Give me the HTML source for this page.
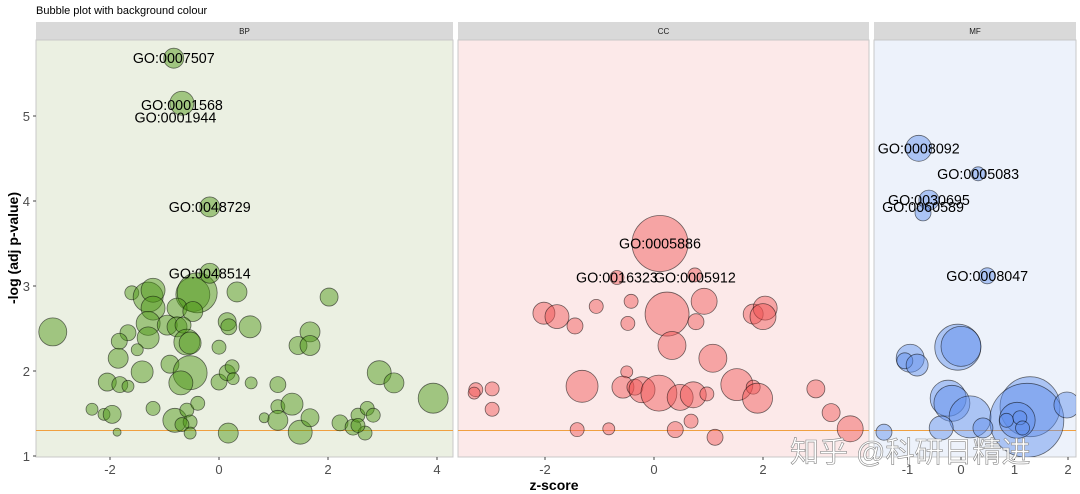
<!DOCTYPE html>
<html><head><meta charset="utf-8"><style>
body{margin:0;background:#fff;}
svg{display:block;font-family:"Liberation Sans",Arial,sans-serif;}
</style></head><body>
<svg id="chart" width="1080" height="494" xmlns="http://www.w3.org/2000/svg">
<text x="36" y="14" font-size="11" fill="#000">Bubble plot with background colour</text>
<text transform="translate(18,248) rotate(-90)" text-anchor="middle" font-size="14" font-weight="bold">-log (adj p-value)</text>
<text x="554" y="490" text-anchor="middle" font-size="14" font-weight="bold">z-score</text>
<g id="panels"></g>
<text x="790" y="462" font-size="29" fill="#fff" stroke="#888" stroke-width="0.6" font-family="'Liberation Sans','Noto Sans CJK SC',sans-serif">知乎 @科研日精进</text>
</svg>
<script>
// Y axis
const yTicks=[1,2,3,4,5];
// BP
const bpX=[-3.05,-1.6,-1.3,-1.21,-1.21,-0.48,-0.4,0.33,2.02,-0.77,-0.48,-1.3,-0.95,-0.77,-0.66,0.15,0.18,0.57,-1.3,-0.59,-0.53,-1.67,-1.83,-1.85,-1.5,0,1.67,1.45,1.67,-0.9,-0.53,-0.7,-1.41,-2.05,-1.82,-1.67,0,0.15,0.24,0.26,0.59,1.08,2.94,3.21,3.93,-2.33,-2.11,-1.96,-1.21,-1.87,-0.81,-0.59,-0.39,-0.53,-0.68,-0.53,0.17,0.83,1.08,1.08,1.34,1.49,1.67,2.22,2.46,2.55,2.72,2.83,2.68,2.55,-0.83,-0.68,-0.17,-0.17];
const bpY=[2.46,2.92,2.87,2.95,2.74,2.9,2.92,2.93,2.87,2.74,2.7,2.56,2.54,2.52,2.54,2.58,2.52,2.52,2.39,2.34,2.33,2.45,2.35,2.15,2.25,2.28,2.46,2.3,2.3,2.08,1.98,1.86,1.99,1.87,1.84,1.82,1.87,1.98,2.05,1.91,1.86,1.84,1.98,1.86,1.68,1.55,1.49,1.49,1.56,1.28,1.42,1.54,1.62,1.4,1.37,1.27,1.27,1.45,1.58,1.42,1.61,1.28,1.45,1.39,1.34,1.48,1.56,1.48,1.27,1.36,5.68,5.15,3.93,3.15];
const bpS=[14,7,15,12,12,17,20,10,9,10,10,12,10,10,8,9,8,11,11,13,11,8,8,10,6,7,10,9,10,9,17,12,11,9,8,6,8,8,7,6,6,8,12,10,15,6,6,9,7,4,12,7,7,7,7,6,10,5,7,10,11,12,9,8,8,7,7,7,7,7,10,12,10,10];
const bpLabX=[-0.83,-0.68,-0.8,-0.17,-0.17];
const bpLabY=[5.68,5.13,4.98,3.93,3.15];
const bpLab=["GO:0007507","GO:0001568","GO:0001944","GO:0048729","GO:0048514"];
// CC
const ccX=[0.11,-0.68,0.75,0.24,0.92,-0.42,-1.06,-0.48,0.77,-2.02,-1.78,-1.45,1.82,2.04,2.0,0.33,1.08,-1.32,-0.5,-0.57,-0.35,-0.22,0.09,0.48,0.72,0.97,1.52,1.82,1.9,-3.27,-2.97,-2.97,2.97,3.25,3.6,-1.41,-0.83,0.39,0.68,1.12,-3.3];
const ccY=[3.5,3.1,3.13,2.67,2.82,2.82,2.76,2.56,2.58,2.68,2.64,2.53,2.67,2.74,2.64,2.3,2.15,1.82,1.99,1.81,1.81,1.78,1.74,1.69,1.72,1.73,1.84,1.81,1.68,1.78,1.79,1.55,1.79,1.51,1.32,1.31,1.32,1.31,1.41,1.22,1.74];
const ccS=[28,7,7,22,13,7,7,7,8,11,12,8,10,12,13,14,14,16,6,11,8,13,18,13,13,7,16,7,15,7,7,7,9,9,13,7,6,8,7,8,6];
const ccLabX=[0.11,-0.68,0.75];
const ccLabY=[3.5,3.1,3.1];
const ccLab=["GO:0005886","GO:0016323","GO:0005912"];
// MF
const mfX=[-0.79,0.32,-0.6,-0.71,0.49,-0.06,0.0,-0.95,-1.05,-0.82,-0.24,-0.17,0.17,1.29,1.23,1.98,1.05,0.85,1.1,1.15,-0.37,0.41,-1.44];
const mfY=[4.62,4.32,4.01,3.86,3.12,2.28,2.29,2.15,2.12,2.07,1.68,1.62,1.46,1.58,1.42,1.6,1.42,1.42,1.45,1.33,1.33,1.33,1.28];
const mfS=[13,7,10,8,8,23,20,14,8,11,18,18,21,30,37,13,18,7,7,7,12,10,8];
const mfLabX=[-0.79,0.32,-0.6,-0.71,0.49];
const mfLabY=[4.62,4.32,4.01,3.93,3.12];
const mfLab=["GO:0008092","GO:0005083","GO:0030695","GO:0060589","GO:0008047"];

const NS="http://www.w3.org/2000/svg";
const yPx=v=>456-(v-1)*85;
const plotTop=40,plotBot=457;
const panels=[
 {name:"BP",x0:36,x1:453,zero:219,k:54.5,ticks:[-2,0,2,4],bg:"#ebf0e2",fill:"rgba(78,150,20,0.48)",X:bpX,Y:bpY,S:bpS,LX:bpLabX,LY:bpLabY,L:bpLab},
 {name:"CC",x0:458,x1:869,zero:654,k:54.5,ticks:[-2,0,2],bg:"#fce9e9",fill:"rgba(240,80,80,0.45)",X:ccX,Y:ccY,S:ccS,LX:ccLabX,LY:ccLabY,L:ccLab},
 {name:"MF",x0:874,x1:1076,zero:961,k:53.5,ticks:[-1,0,1,2],bg:"#edf2fb",fill:"rgba(90,140,235,0.45)",X:mfX,Y:mfY,S:mfS,LX:mfLabX,LY:mfLabY,L:mfLab}
];
const g=document.getElementById('panels');
function mk(t,a,p){const e=document.createElementNS(NS,t);for(const k in a)e.setAttribute(k,a[k]);(p||g).appendChild(e);return e;}
panels.forEach((P,pi)=>{
 const xPx=v=>P.zero+v*P.k;
 const pg=mk('g',{});
 
 
 const st=mk('rect',{x:P.x0,y:22,width:P.x1-P.x0,height:18,fill:'#d9d9d9'},pg);
 
 
 const sl=mk('text',{x:(P.x0+P.x1)/2,y:34,'font-size':8,'text-anchor':'middle',fill:'#1a1a1a'},pg);
 sl.textContent=P.name;
 
 
 const bg=mk('rect',{x:P.x0,y:plotTop,width:P.x1-P.x0,height:plotBot-plotTop,fill:P.bg,stroke:'#c8c8c8','stroke-width':1},pg);
 
 
 const clipId='clip'+pi;
 const cp=mk('clipPath',{id:clipId},pg);
 mk('rect',{x:P.x0,y:plotTop,width:P.x1-P.x0,height:plotBot-plotTop},cp);
 const cg=mk('g',{},pg);
 cg.setAttribute('clip-path','url(#'+clipId+')');
 const th=mk('line',{x1:P.x0,x2:P.x1,y1:yPx(1.3),y2:yPx(1.3),stroke:'#f0a040','stroke-width':1},cg);
 
 
 P.X.forEach((v,i)=>{
  const c=mk('circle',{cx:xPx(v),cy:yPx(P.Y[i]),r:P.S[i],fill:P.fill,stroke:'rgba(0,0,0,0.55)','stroke-width':0.8},cg);
  
  
 });
 P.L.forEach((s,i)=>{
  const t=mk('text',{x:xPx(P.LX[i]),y:yPx(P.LY[i])+5,'font-size':14.3,'text-anchor':'middle',fill:'#000'},cg);
  t.textContent=s;
  
  
 });
 P.ticks.forEach(v=>{
  mk('line',{x1:xPx(v),x2:xPx(v),y1:plotBot,y2:plotBot+3,stroke:'#444'},pg);
  const t=mk('text',{x:xPx(v),y:plotBot+17,'font-size':13,'text-anchor':'middle',fill:'#4d4d4d'},pg);
  t.textContent=v;
  
  
 });
});
yTicks.forEach(v=>{
 mk('line',{x1:33,x2:36,y1:yPx(v),y2:yPx(v),stroke:'#444'});
 const t=mk('text',{x:30,y:yPx(v)+5,'font-size':13,'text-anchor':'end',fill:'#4d4d4d'});
 t.textContent=v;
 
 
});
</script>
</body></html>
